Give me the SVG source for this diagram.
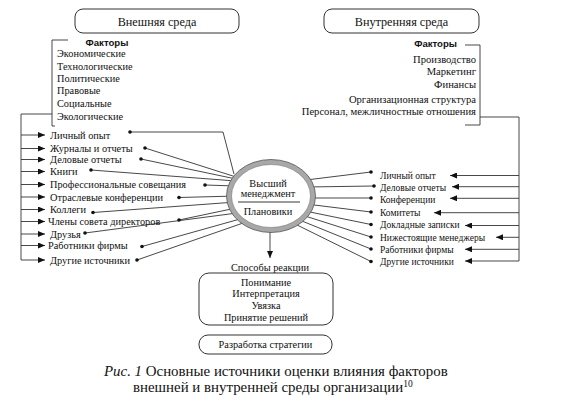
<svg xmlns="http://www.w3.org/2000/svg" width="570" height="406" viewBox="0 0 570 406">
<defs>
<style>
.t{font-family:"Liberation Serif","Times New Roman",serif;font-size:10.3px;fill:#111}
.r{font-family:"Liberation Serif","Times New Roman",serif;font-size:9.5px;fill:#111}
.f{font-family:"Liberation Serif","Times New Roman",serif;font-size:10.6px;fill:#111}
.h{font-family:"Liberation Serif","Times New Roman",serif;font-size:12.2px;fill:#111}
.b{font-family:"Liberation Sans",Arial,sans-serif;font-size:9.6px;font-weight:bold;fill:#111}
.c{font-family:"Liberation Serif","Times New Roman",serif;font-size:14.9px;fill:#111}
.ln{stroke:#333;stroke-width:0.9;fill:none}
.box{fill:#fff;stroke:#333;stroke-width:1}
.dot{fill:#111}
</style>
<marker id="ar" markerWidth="7" markerHeight="6" refX="7" refY="3" orient="auto" markerUnits="userSpaceOnUse">
<path d="M0,0 L7,3 L0,6 z" fill="#111"/>
</marker>
</defs>
<rect width="570" height="406" fill="#fff"/>

<g id="connectors">
<polyline class="ln" points="68,40 52,40 52,126 55,126"/>
<polyline class="ln" points="52,114 21,114 21,260"/>
<g marker-end="url(#ar)">
<line class="ln" x1="21" y1="135" x2="45" y2="135"/>
<line class="ln" x1="21" y1="148.5" x2="45" y2="148.5"/>
<line class="ln" x1="21" y1="159.5" x2="45" y2="159.5"/>
<line class="ln" x1="21" y1="171.5" x2="45" y2="171.5"/>
<line class="ln" x1="21" y1="184.5" x2="45" y2="184.5"/>
<line class="ln" x1="21" y1="197" x2="45" y2="197"/>
<line class="ln" x1="21" y1="209.5" x2="45" y2="209.5"/>
<line class="ln" x1="21" y1="221.5" x2="45" y2="221.5"/>
<line class="ln" x1="21" y1="234" x2="45" y2="234"/>
<line class="ln" x1="21" y1="245.5" x2="45" y2="245.5"/>
<line class="ln" x1="21" y1="260" x2="45" y2="260"/>
</g>
<polyline class="ln" points="465,45 480,45 480,125 465,125"/>
<polyline class="ln" points="480,117 519,117 519,261"/>
<g marker-end="url(#ar)">
<line class="ln" x1="519" y1="175.5" x2="450" y2="175.5"/>
<line class="ln" x1="519" y1="186.7" x2="452" y2="186.7"/>
<line class="ln" x1="519" y1="198.3" x2="450" y2="198.3"/>
<line class="ln" x1="519" y1="212.7" x2="434" y2="212.7"/>
<line class="ln" x1="519" y1="225.5" x2="465" y2="225.5"/>
<line class="ln" x1="519" y1="237.3" x2="496" y2="237.3"/>
<line class="ln" x1="519" y1="249.3" x2="465" y2="249.3"/>
<line class="ln" x1="519" y1="261" x2="465" y2="261"/>
</g>
<polyline class="ln" points="130,132 223,132 234,174"/>
<line class="ln" x1="145" y1="148" x2="236" y2="177"/>
<line class="ln" x1="141" y1="159" x2="236" y2="179"/>
<line class="ln" x1="91" y1="170" x2="236" y2="181"/>
<line class="ln" x1="205" y1="185" x2="236" y2="186"/>
<line class="ln" x1="179" y1="197.5" x2="236" y2="196"/>
<line class="ln" x1="93" y1="212.5" x2="236" y2="202"/>
<line class="ln" x1="179" y1="220" x2="236" y2="208"/>
<line class="ln" x1="85" y1="233" x2="237" y2="213"/>
<line class="ln" x1="142" y1="246.5" x2="240" y2="219"/>
<line class="ln" x1="137" y1="260" x2="246" y2="222"/>
<line class="ln" x1="306" y1="180" x2="371" y2="172"/>
<line class="ln" x1="306" y1="187" x2="374" y2="186"/>
<line class="ln" x1="306" y1="198" x2="371" y2="198"/>
<line class="ln" x1="306" y1="204" x2="371" y2="212"/>
<line class="ln" x1="305" y1="211" x2="371" y2="224.5"/>
<line class="ln" x1="302" y1="215" x2="371" y2="237"/>
<line class="ln" x1="297" y1="219" x2="371" y2="249"/>
<line class="ln" x1="291" y1="222" x2="371" y2="261.5"/>
<line class="ln" x1="270" y1="230" x2="270" y2="258" marker-end="url(#ar)"/>
<g class="dot">
<circle cx="130" cy="132" r="1.8"/>
<circle cx="145" cy="148" r="1.8"/>
<circle cx="141" cy="159" r="1.8"/>
<circle cx="91" cy="170" r="1.8"/>
<circle cx="205" cy="185" r="1.8"/>
<circle cx="179" cy="197.5" r="1.8"/>
<circle cx="93" cy="212.5" r="1.8"/>
<circle cx="179" cy="220" r="1.8"/>
<circle cx="85" cy="233" r="1.8"/>
<circle cx="142" cy="246.5" r="1.8"/>
<circle cx="137" cy="260" r="1.8"/>
<circle cx="371" cy="172" r="1.8"/>
<circle cx="374" cy="186" r="1.8"/>
<circle cx="371" cy="198" r="1.8"/>
<circle cx="371" cy="212" r="1.8"/>
<circle cx="371" cy="224.5" r="1.8"/>
<circle cx="371" cy="237" r="1.8"/>
<circle cx="371" cy="249" r="1.8"/>
<circle cx="371" cy="261.5" r="1.8"/>
</g>
</g>

<g id="external">
<rect class="box" x="75" y="9" width="164" height="24" rx="8"/>
<text class="h" x="157" y="25.5" text-anchor="middle">Внешняя среда</text>
</g>

<g id="internal">
<rect class="box" x="324" y="9" width="155" height="24" rx="8"/>
<text class="h" x="401.5" y="25.5" text-anchor="middle">Внутренняя среда</text>
</g>

<g id="external-factors">
<text class="b" x="107" y="45.5" text-anchor="middle">Факторы</text>
<text class="t" x="57" y="57">Экономические</text>
<text class="t" x="57" y="69.5">Технологические</text>
<text class="t" x="57" y="82">Политические</text>
<text class="t" x="57" y="94">Правовые</text>
<text class="t" x="57" y="107">Социальные</text>
<text class="t" x="57" y="119.5">Экологические</text>
</g>

<g id="internal-factors">
<text class="b" x="457" y="47" text-anchor="end">Факторы</text>
<text class="f" x="476" y="63" text-anchor="end">Производство</text>
<text class="f" x="476" y="75" text-anchor="end">Маркетинг</text>
<text class="f" x="476" y="88" text-anchor="end">Финансы</text>
<text class="f" x="476" y="102.5" text-anchor="end">Организационная структура</text>
<text class="f" x="476" y="114.5" text-anchor="end">Персонал, межличностные отношения</text>
</g>

<g id="external-sources">
<text class="t" x="50" y="139">Личный опыт</text>
<text class="t" x="50" y="152">Журналы и отчеты</text>
<text class="t" x="50" y="163">Деловые отчеты</text>
<text class="t" x="50" y="175">Книги</text>
<text class="t" x="50" y="188">Профессиональные совещания</text>
<text class="t" x="50" y="200.5">Отраслевые конференции</text>
<text class="t" x="50" y="213">Коллеги</text>
<text class="t" x="48" y="225">Члены совета директоров</text>
<text class="t" x="50" y="237.5">Друзья</text>
<text class="t" x="48" y="249">Работники фирмы</text>
<text class="t" x="50" y="263.5">Другие источники</text>
</g>

<g id="internal-sources">
<text class="r" x="380" y="178.5">Личный опыт</text>
<text class="r" x="380" y="190.5">Деловые отчеты</text>
<text class="r" x="380" y="203">Конференции</text>
<text class="r" x="380" y="215.5">Комитеты</text>
<text class="r" x="380" y="228">Докладные записки</text>
<text class="r" x="380" y="240.5">Нижестоящие менеджеры</text>
<text class="r" x="380" y="252.5">Работники фирмы</text>
<text class="r" x="380" y="265">Другие источники</text>
</g>

<g id="management">
<ellipse cx="271" cy="196" rx="42" ry="34" fill="#fff" stroke="#a8a8a8" stroke-width="5"/>
<ellipse cx="271" cy="196" rx="44.5" ry="36.5" fill="none" stroke="#555" stroke-width="0.8"/>
<ellipse cx="271" cy="196" rx="39.5" ry="31.5" fill="none" stroke="#777" stroke-width="0.6"/>
<text class="t" x="268" y="186.5" text-anchor="middle">Высший</text>
<text class="t" x="268" y="196.5" text-anchor="middle">менеджмент</text>
<line x1="238" y1="202" x2="300" y2="202" stroke="#222" stroke-width="0.9"/>
<text class="t" x="268" y="214.5" text-anchor="middle">Плановики</text>
</g>

<g id="reaction">
<text class="t" x="270" y="271" text-anchor="middle">Способы реакции</text>
<rect class="box" x="199" y="273" width="134" height="52" rx="10"/>
<text class="t" x="266" y="285.5" text-anchor="middle">Понимание</text>
<text class="t" x="266" y="297" text-anchor="middle">Интерпретация</text>
<text class="t" x="266" y="308.5" text-anchor="middle">Увязка</text>
<text class="t" x="266" y="321" text-anchor="middle">Принятие решений</text>
</g>

<g id="strategy">
<rect class="box" x="199" y="335" width="133" height="19" rx="9"/>
<text class="t" x="265.5" y="348" text-anchor="middle">Разработка стратегии</text>
</g>

<g id="caption">
<text class="c" x="104" y="376"><tspan font-style="italic">Рис. 1</tspan> Основные источники оценки влияния факторов</text>
<text class="c" x="133" y="392">внешней и внутренней среды организации<tspan font-size="9.5" dy="-5.5">10</tspan></text>
</g>
</svg>
